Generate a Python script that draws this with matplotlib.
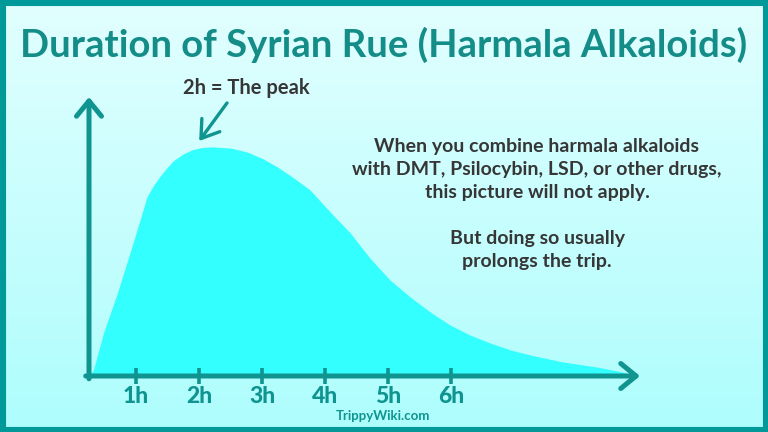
import numpy as np
import matplotlib
matplotlib.use("Agg")
import matplotlib.pyplot as plt
from matplotlib.colors import LinearSegmentedColormap
from matplotlib.patches import Rectangle

# data (hours after ingestion, % of peak effect)
hours = [0.25, 0.32, 0.48, 0.70, 0.90, 1.06, 1.17, 1.27, 1.38, 1.49, 1.59, 1.75,
         1.90, 2.06, 2.22, 2.50, 2.76, 3.00, 3.24, 3.50, 3.76, 4.08, 4.40, 4.71,
         5.03, 5.35, 5.67, 5.98, 6.30, 6.62, 6.94, 7.25, 7.78, 8.32, 8.73, 8.92]
effect = [0, 2.6, 18.8, 36.2, 53.7, 68.1, 78.2, 83.0, 87.3, 91.0, 94.0, 97.0,
          98.9, 99.8, 100, 99.5, 97.8, 95.0, 91.3, 86.5, 81.2, 71.6, 62.4, 51.5,
          41.9, 34.5, 27.9, 22.3, 17.9, 14.4, 11.4, 9.2, 6.1, 3.9, 1.7, 0]
tick_hours = [1, 2, 3, 4, 5, 6]
tick_labels = ["1h", "2h", "3h", "4h", "5h", "6h"]
peak = (2.0, 102.6)

title = "Duration of Syrian Rue (Harmala Alkaloids)"
peak_note = "2h = The peak"
side_note = ("When you combine harmala alkaloids\n"
             "with DMT, Psilocybin, LSD, or other drugs,\n"
             "this picture will not apply.\n\n"
             "But doing so usually\n"
             "prolongs the trip.")
credit = "TrippyWiki.com"

teal = "#0f9490"
border = "#009999"
dark = "#363636"
W, H = 768, 432

fig = plt.figure(figsize=(7.68, 4.32), dpi=100)

# background gradient + frame
bg = fig.add_axes([0, 0, 1, 1])
bg.set_axis_off()
cmap = LinearSegmentedColormap.from_list("bg", ["#e2ffff", "#aefdfd"])
bg.imshow(np.linspace(0, 1, 256).reshape(-1, 1), aspect="auto", cmap=cmap,
          extent=[0, 1, 0, 1], origin="upper")
bg.add_patch(Rectangle((0, 0), 1, 1, transform=bg.transAxes, fill=False,
                       ec=border, lw=8))
bg.set_xlim(0, 1)
bg.set_ylim(0, 1)

# chart area
ax = fig.add_axes([89 / W, 1 - 376 / H, (640 - 89) / W, (376 - 97) / H])
ax.patch.set_visible(False)
ax.fill_between(hours, 0, effect, color="#33ffff", lw=0)
ax.set_xlim(0.25, 9.0)
ax.set_ylim(0, 121.8)
for s in ax.spines.values():
    s.set_visible(False)
ax.set_yticks([])
ax.set_xticks(tick_hours)
ax.set_xticklabels(tick_labels)
ax.tick_params(axis="x", direction="inout", length=11, width=2.6, color=teal,
               labelcolor=teal, labelsize=16.5, pad=2)
for lbl in ax.get_xticklabels():
    lbl.set_fontweight("black")
    lbl.set_family("Lato")

arrow = dict(arrowstyle="->,head_length=0.55,head_width=0.45", lw=3.6,
             color=teal, shrinkA=0, shrinkB=0, mutation_scale=20)
ax.annotate("", xy=(1, 0), xytext=(-0.006, 0), xycoords="axes fraction",
            arrowprops=arrow)
ax.annotate("", xy=(0, 1), xytext=(0, -0.01), xycoords="axes fraction",
            arrowprops=arrow)

# peak note
ax.annotate("", xy=peak, xycoords="data",
            xytext=(227 / W, 1 - 103 / H), textcoords="figure fraction",
            arrowprops=dict(arrowstyle="->,head_length=0.6,head_width=0.4",
                            lw=2.4, color=teal, shrinkA=0, shrinkB=0,
                            mutation_scale=20))
fig.text(246 / W, 1 - 88 / H, peak_note, ha="center", va="center",
         fontsize=14.5, fontweight="bold", color=dark, family="Lato")

fig.text(0.5, 1 - 45 / H, title, ha="center", va="center",
         fontsize=27.5, fontweight="bold", color="#148c88", family="Lato")

fig.text(537 / W, 1 - 204 / H, side_note, ha="center", va="center",
         fontsize=14, fontweight="bold", color=dark, family="Lato",
         linespacing=1.42)

fig.text(383 / W, 1 - 416 / H, credit, ha="center", va="center",
         fontsize=9.5, fontweight="bold", color=teal, family="Lato")

fig.savefig("out.png", dpi=100)
